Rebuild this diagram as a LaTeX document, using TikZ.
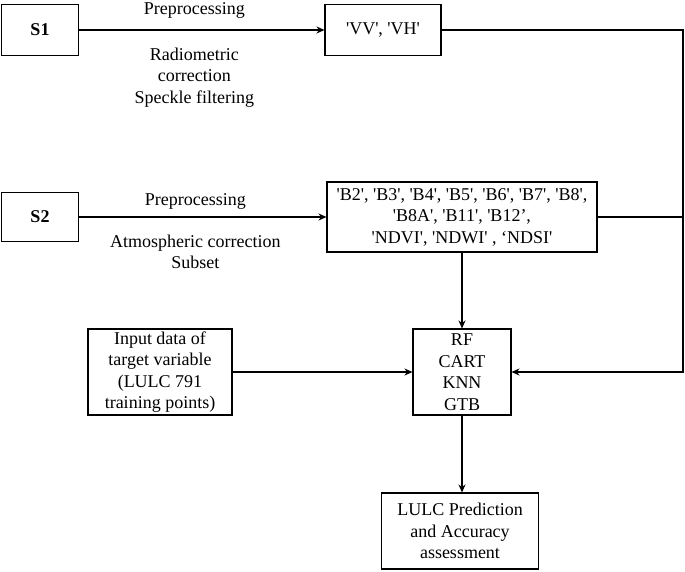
\documentclass[tikz,border=0pt]{standalone}
\usepackage{fontspec}
\setmainfont{Liberation Serif}[Ligatures=TeXOff]
\usetikzlibrary{arrows.meta,calc}
\tikzset{
  blok/.style={draw,line width=1.1pt,align=center,inner sep=2pt},
  zdroj/.style={blok,minimum width=77pt,minimum height=51pt,font=\fontsize{18}{21.5}\selectfont\bfseries},
  hrana/.style={line width=1.1pt},
  sip/.style={-{Stealth[length=8pt,width=7pt]},line width=1.1pt},
}
\begin{document}
\begin{tikzpicture}[x=1pt,y=-1pt,font=\fontsize{18}{21.5}\selectfont]
  \useasboundingbox (0,0) rectangle (685,571);
  \node[zdroj] (s1) at (40,30) {S1};
  \node[blok,minimum width=116pt,minimum height=51pt] (vv) at (383,30) {'VV', 'VH'};
  \node[zdroj,minimum height=49pt] (s2) at (40,217) {S2};
  \node[blok,minimum width=270pt,minimum height=70pt] (pasma) at (462,217) {'B2', 'B3', 'B4', 'B5', 'B6', 'B7', 'B8',\\'B8A', 'B11', 'B12’,\\'NDVI', 'NDWI' , ‘NDSI'};
  \node[blok,minimum width=144pt,minimum height=86pt] (vstup) at (160,372) {Input data of\\target variable\\(LULC 791\\training points)};
  \node[blok,minimum width=98pt,minimum height=86pt] (model) at (462,372) {RF\\CART\\KNN\\GTB};
  \node[blok,minimum width=157pt,minimum height=76pt] (vystup) at (460,531) {LULC Prediction\\and Accuracy\\assessment};
  \coordinate (roh) at (683,372);
  \draw[sip] (s1) -- (vv) node[pos=0.47,above=8pt]{Preprocessing}
    node[pos=0.47,below=14pt,align=center]{Radiometric\\correction\\Speckle filtering};
  \draw[sip] (s2) -- (pasma) node[pos=0.47,above=4pt]{Preprocessing}
    node[pos=0.47,below=14pt,align=center]{Atmospheric correction\\Subset};
  \draw[sip] (vv.east) -- (vv.east -| roh) -- (roh) -- (model.east);
  \draw[hrana] (pasma.east) -- (pasma.east -| roh);
  \draw[sip] (pasma) -- (model);
  \draw[sip] (vstup) -- (model);
  \draw[sip] (model) -- (model |- vystup.north);
\end{tikzpicture}
\end{document}
